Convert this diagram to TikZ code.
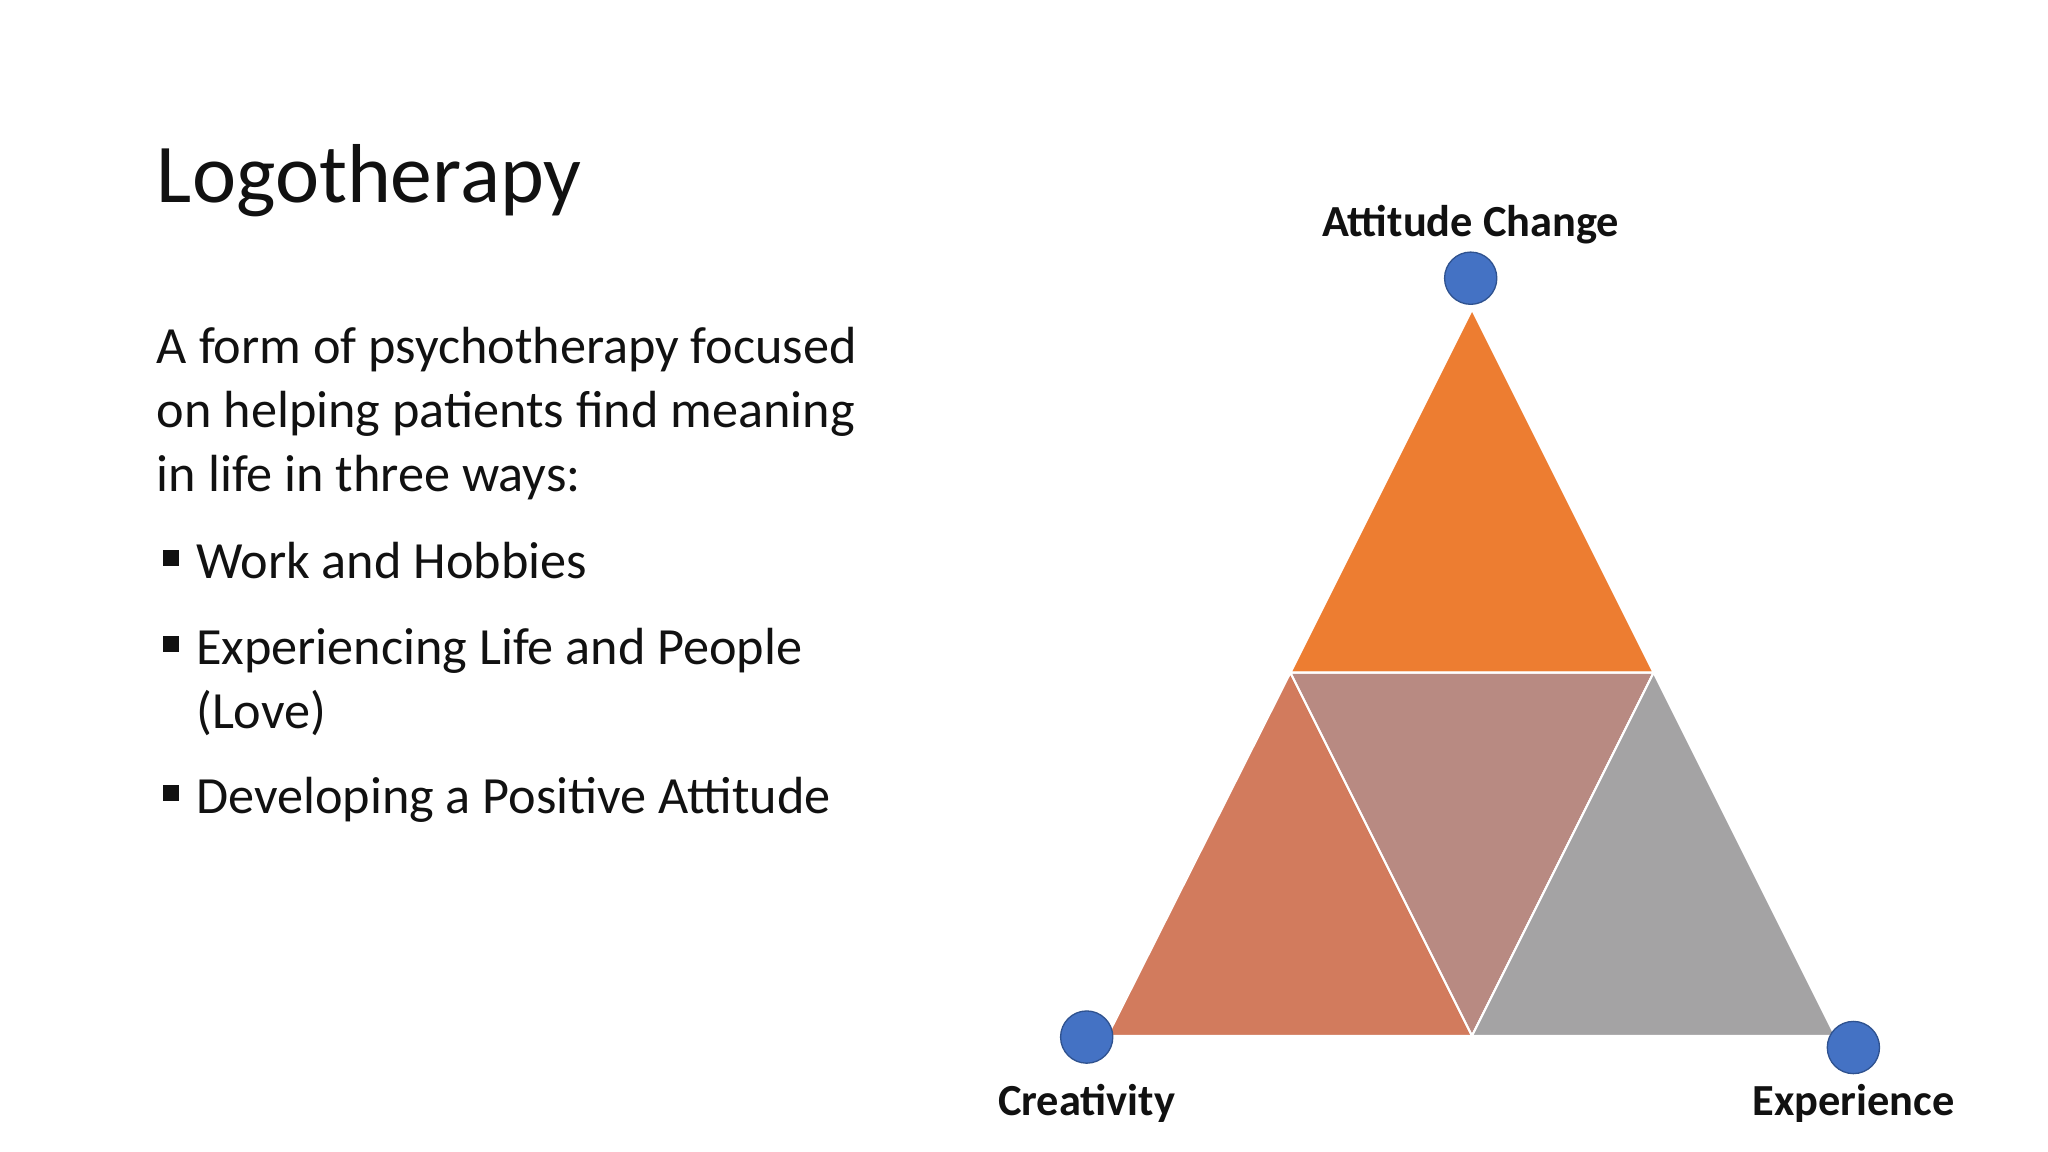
\documentclass[tikz,border=0pt]{standalone}
\usepackage{fontspec}
\setmainfont{Carlito}
\definecolor{torange}{HTML}{ED7D31}
\definecolor{tleft}{HTML}{D27B5D}
\definecolor{tmid}{HTML}{B88A82}
\definecolor{tright}{HTML}{A4A3A4}
\definecolor{dotblue}{HTML}{4472C4}
\definecolor{dotedge}{HTML}{2F528F}
\definecolor{txt}{HTML}{111111}
\begin{document}
\begin{tikzpicture}[x=1pt,y=-1pt,
  body/.style={anchor=base west,inner sep=0pt,font=\fontsize{40}{48}\selectfont,text=txt},
  lbl/.style={anchor=base,inner sep=0pt,font=\fontsize{34}{40}\selectfont\bfseries,text=txt},
  dot/.style={circle,fill=dotblue,draw=dotedge,line width=1pt,minimum size=40pt,inner sep=0pt},
  tri/.style={draw=white,line width=1.5pt}]
\useasboundingbox (0,0) rectangle (1568,882);
\fill[white] (0,0) rectangle (1568,882);
\node[anchor=base west,inner sep=0pt,font=\fontsize{64}{70}\selectfont,text=txt] (title) at (120,155) {Logotherapy};
\node[body] (l1) at (120,278) {A form of psychotherapy focused};
\node[body] (l2) at (120,327) {on helping patients find meaning};
\node[body] (l3) at (120,376) {in life in three ways:};
\node[body] (b1) at (150,443) {Work and Hobbies};
\node[body] (b2) at (150,509) {Experiencing Life and People};
\node[body] (b2b) at (150,558) {(Love)};
\node[body] (b3) at (150,623) {Developing a Positive Attitude};
\foreach \y in {428,494,608}{\fill[txt] (125,\y-7) rectangle (137,\y+5);}
\coordinate (A) at (1127,237);
\coordinate (B) at (848,793);
\coordinate (C) at (1405,793);
\coordinate (AB) at (988,515);
\coordinate (AC) at (1266,515);
\coordinate (BC) at (1127,793);
\fill[tri,fill=torange] (A) -- (AB) -- (AC) -- cycle;
\fill[tri,fill=tleft] (AB) -- (B) -- (BC) -- cycle;
\fill[tri,fill=tmid] (AB) -- (AC) -- (BC) -- cycle;
\fill[tri,fill=tright] (AC) -- (BC) -- (C) -- cycle;
\draw[white,line width=1.5pt] (AB) -- (AC) -- (BC) -- cycle;
\node[dot] (d1) at (1126,213) {};
\node[dot] (d2) at (832,794) {};
\node[dot] (d3) at (1419,802) {};
\node[lbl] (t1) at (1126,181) {Attitude Change};
\node[lbl] (t2) at (832,854) {Creativity};
\node[lbl] (t3) at (1419,854) {Experience};
\end{tikzpicture}
\end{document}
